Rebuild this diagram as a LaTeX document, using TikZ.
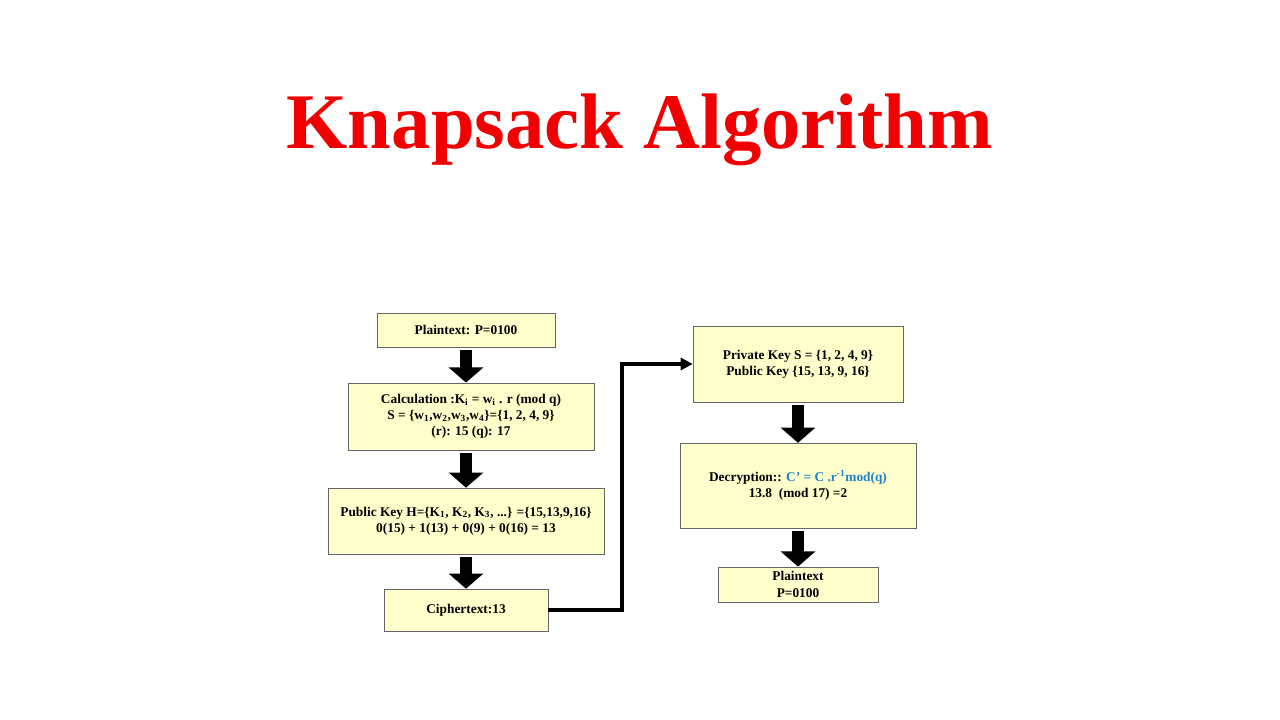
\documentclass[tikz,border=0pt]{standalone}
\usepackage{fontspec}
\setmainfont{Liberation Serif}
\usetikzlibrary{positioning,arrows.meta}
\definecolor{boxYellow}{RGB}{255,255,204}
\definecolor{titleRed}{RGB}{240,0,0}
\definecolor{formulaBlue}{RGB}{30,130,200}
\begin{document}
\begin{tikzpicture}[x=0.025cm,y=-0.025cm,
    step/.style={draw=black!60,fill=boxYellow,font=\bfseries\fontsize{9.5}{11.5}\selectfont,
                 align=center,inner sep=0pt,minimum height=#1},
    flow/.style={line width=0.3cm,-{Triangle[width=0.85cm,length=0.38cm]}},
    link/.style={line width=0.1cm,-{Triangle[width=0.3cm,length=0.3cm]}}
  ]
  \useasboundingbox[fill=white] (0,0) rectangle (1280,720);
  % title
  \node[text=titleRed,font=\bfseries\fontsize{56}{64}\selectfont] (title) at (640,130) {Knapsack Algorithm};
  \node[font=\bfseries\fontsize{60}{66}\selectfont] (telugu) at (640,245) {తెలుగు};
  % left column
  \node[step=0.85cm,minimum width=4.45cm] (plain) at (466,330) {Plaintext: P=0100};
  \node[step=1.68cm,minimum width=6.15cm] (calc) at (471,416.5)
    {Calculation :K$_{\mathbf{i}}$ = w$_{\mathbf{i}}$ . r (mod q)\\
     S = \{w$_{\mathbf{1}}$,w$_{\mathbf{2}}$,w$_{\mathbf{3}}$,w$_{\mathbf{4}}$\}=\{1, 2, 4, 9\}\\
     (r): 15 (q): 17};
  \node[step=1.65cm,minimum width=6.9cm] (pub) at (466,521)
    {Public Key H=\{K$_{\mathbf{1}}$, K$_{\mathbf{2}}$, K$_{\mathbf{3}}$, ...\} =\{15,13,9,16\}\\
     0(15) + 1(13) + 0(9) + 0(16) = 13\hspace{1.5em}};
  \node[step=1.05cm,minimum width=4.1cm] (cipher) at (466,610) {Ciphertext:13};
  % right column
  \node[step=1.9cm,minimum width=5.25cm] (priv) at (798,364)
    {Private Key S = \{1, 2, 4, 9\}\\ Public Key \{15, 13, 9, 16\}};
  \node[step=2.12cm,minimum width=5.9cm] (dec) at (798,485.5)
    {Decryption:: \textcolor{formulaBlue}{C' = C .r\textsuperscript{-1}mod(q)}\\ 13.8~~(mod 17) =2};
  \node[step=0.88cm,minimum width=4cm] (plain2) at (798,584.5) {Plaintext\\ P=0100};
  % arrows
  \draw[flow] ([yshift=-2pt]plain.south) -- (plain.south |- calc.north);
  \draw[flow] ([yshift=-2pt]plain.south |- calc.south) -- (plain.south |- pub.north);
  \draw[flow] ([yshift=-2pt]pub.south) -- (cipher);
  \draw[flow] ([yshift=-2pt]priv.south) -- (dec);
  \draw[flow] ([yshift=-2pt]dec.south) -- (plain2);
  \draw[link] (cipher.east) -| (622,364) -- (priv.west);
\end{tikzpicture}
\end{document}
